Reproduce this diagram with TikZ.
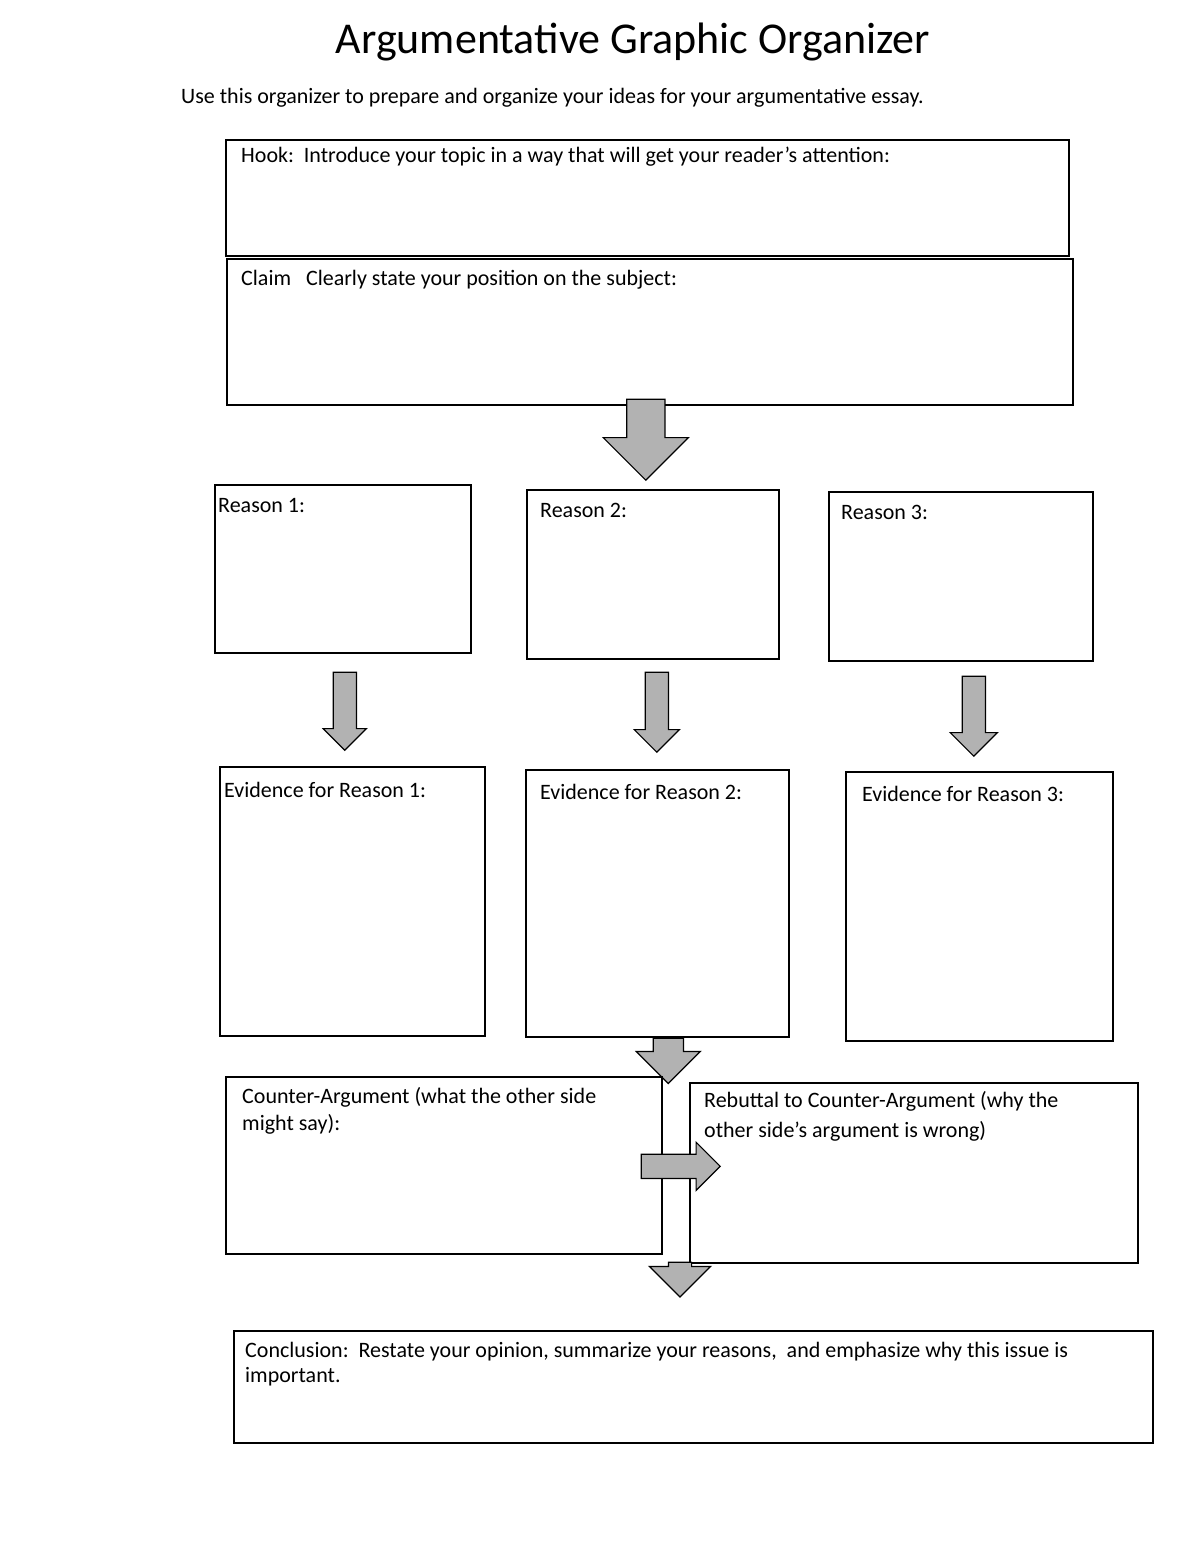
\documentclass[tikz,border=0pt]{standalone}
\usepackage{fontspec}
\setmainfont{Carlito}
\usetikzlibrary{shapes.arrows}

\tikzset{
  sheetbox/.style={draw, line width=1.6pt, anchor=north west, inner sep=0pt},
  boxlabel/.style={anchor=base west, inner sep=0pt, font=\fontsize{22}{27}\selectfont, align=left},
  downarrow/.style={single arrow, draw, line width=1.2pt, fill=gray!60,
    shape border rotate=270, anchor=tail, inner sep=0pt, text height=0pt, text depth=0pt,
    single arrow head indent=0pt},
  rightarrow/.style={downarrow, shape border rotate=0}
}

\begin{document}
\begin{tikzpicture}[x=1pt, y=-1pt]
\useasboundingbox (0,0) rectangle (1200,1549);

% heading
\node[font=\fontsize{44}{50}\selectfont] (title) at (633,42) {Argumentative Graphic Organizer};
\node[boxlabel] (intro) at (181,104) {Use this organizer to prepare and organize your ideas for your argumentative essay.};

% hook and claim
\node[sheetbox, minimum width=843pt, minimum height=116pt] (hook) at (225,139) {};
\node[boxlabel] at ([xshift=16pt, yshift=-24pt]hook.north west) {Hook:\ \ Introduce your topic in a way that will get your reader's attention:};
\node[sheetbox, minimum width=846pt, minimum height=146pt] (claim) at (226,258) {};
\node[boxlabel] at ([xshift=15pt, yshift=-27pt]claim.north west) {Claim\ \ \ Clearly state your position on the subject:};

\node[downarrow, minimum height=81pt, single arrow head extend=23.5pt,
  inner sep=18.5pt] (a0) at ([xshift=-4pt, yshift=7pt]claim.south) {};

% reasons
\node[sheetbox, minimum width=256pt, minimum height=168pt] (r1) at (214,484) {};
\node[sheetbox, minimum width=252pt, minimum height=169pt] (r2) at (526,489) {};
\node[sheetbox, minimum width=264pt, minimum height=169pt] (r3) at (828,491) {};
\node[boxlabel] at ([xshift=4pt, yshift=-28pt]r1.north west) {Reason 1:};
\node[boxlabel] at ([xshift=14pt, yshift=-28pt]r2.north west) {Reason 2:};
\node[boxlabel] at ([xshift=13pt, yshift=-28pt]r3.north west) {Reason 3:};

\node[downarrow, minimum height=78pt, single arrow head extend=10pt, inner sep=11pt] (a1) at ([xshift=2pt, yshift=-18pt]r1.south) {};
\node[downarrow, minimum height=80pt, single arrow head extend=11pt, inner sep=11pt] (a2) at ([xshift=4pt, yshift=-12pt]r2.south) {};
\node[downarrow, minimum height=80pt, single arrow head extend=12pt, inner sep=11pt] (a3) at ([xshift=13pt, yshift=-14pt]r3.south) {};

% evidence
\node[sheetbox, minimum width=265pt, minimum height=269pt] (e1) at (219,766) {};
\node[sheetbox, minimum width=263pt, minimum height=267pt] (e2) at (525,769) {};
\node[sheetbox, minimum width=267pt, minimum height=269pt] (e3) at (845,771) {};
\node[boxlabel] at ([xshift=5pt, yshift=-31pt]e1.north west) {Evidence for Reason 1:};
\node[boxlabel] at ([xshift=15pt, yshift=-30pt]e2.north west) {Evidence for Reason 2:};
\node[boxlabel] at ([xshift=17pt, yshift=-30pt]e3.north west) {Evidence for Reason 3:};

\node[downarrow, minimum height=37pt, single arrow head extend=17pt, inner sep=14.5pt] (a4) at ([xshift=11pt]e2.south) {};

% counter-argument and rebuttal
\node[sheetbox, minimum width=436pt, minimum height=177pt] (counter) at (225,1076) {};
\node[sheetbox, minimum width=448pt, minimum height=180pt] (rebut) at (689,1082) {};
\node[boxlabel] at ([xshift=17pt, yshift=-54pt]counter.north west) {Counter-Argument (what the other side\\might say):};
\node[boxlabel, font=\fontsize{22}{30}\selectfont] at ([xshift=15pt, yshift=-55pt]rebut.north west) {Rebuttal to Counter-Argument (why the\\other side's argument is wrong)};

\node[rightarrow, minimum height=79pt, single arrow head extend=12pt, inner sep=11.5pt] (a5) at ([xshift=-22pt, yshift=-1pt]counter.east) {};
\node[downarrow, minimum height=33pt, single arrow head extend=19pt, inner sep=11pt] (a6) at ([xshift=-9pt, yshift=2pt]rebut.south west) {};

% conclusion
\node[sheetbox, minimum width=919pt, minimum height=112pt] (concl) at (233,1330) {};
\node[boxlabel, font=\fontsize{22}{25}\selectfont] at ([xshift=12pt, yshift=-52pt]concl.north west) {Conclusion:\ \ Restate your opinion, summarize your reasons,\ \ and emphasize why this issue is\\important.};
\end{tikzpicture}
\end{document}
